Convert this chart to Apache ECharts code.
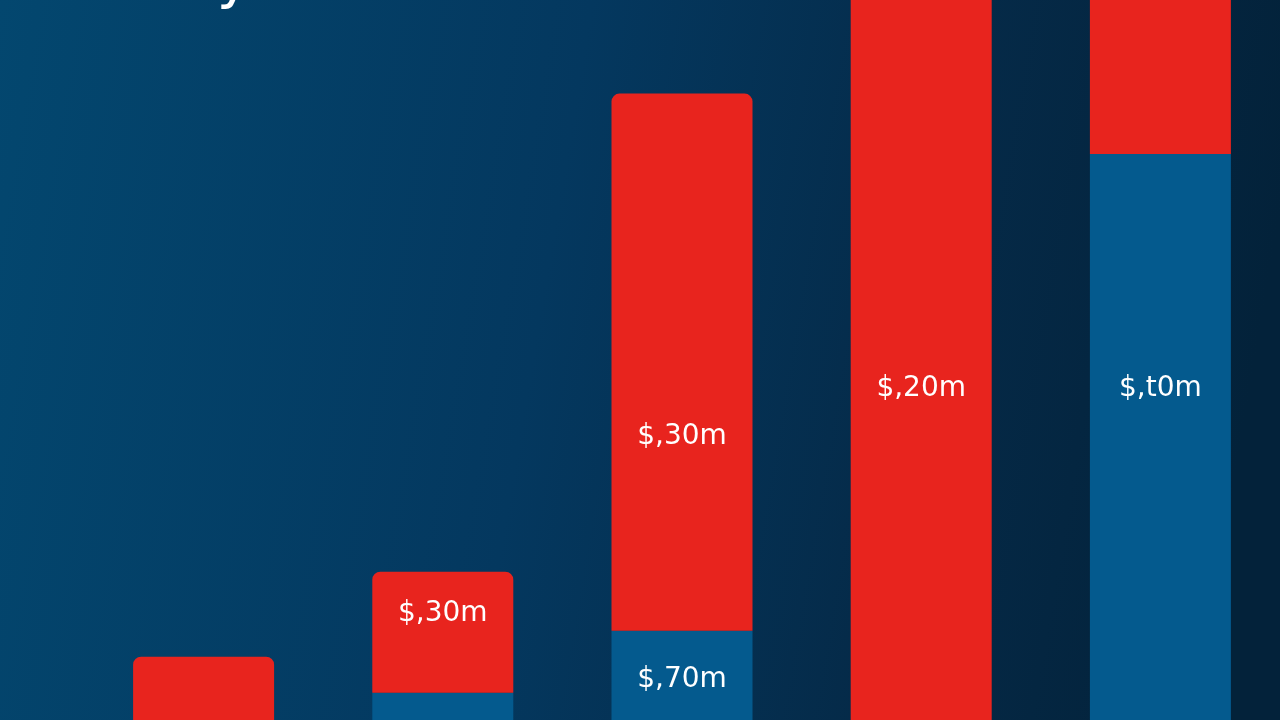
<!DOCTYPE html>
<html>
<head>
<meta charset="utf-8">
<style>
  html, body { margin: 0; padding: 0; width: 1280px; height: 720px; overflow: hidden; background: #05345a; }
  #chart { width: 1280px; height: 720px; }
</style>
<script src="https://cdn.jsdelivr.net/npm/echarts@6/dist/echarts.min.js"></script>
</head>
<body>
<div id="chart"></div>
<script>
// ---- data ----
const categories = ['A', 'B', 'C', 'D', 'E'];
const baseValues = [0, 19, 62, 0, 393];      // blue (bottom) segment
const topValues = [44, 84, 373, 540, 160];   // red (top) segment
const topLabels = ['', '$,30m', '$,30m', '$,20m', ''];
const baseLabels = ['', '', '$,70m', '', '$,t0m'];
const titleText = 'Sales by';

// ---- styling ----
const topLabelShift = [0, -18, 75, 58, 0];
const baseLabelShift = [0, 0, 4, 0, -48];
const RED = '#e8241e';
const BLUE = '#045a8e';

const labelStyle = {
  show: true,
  position: 'inside',
  color: '#ffffff',
  fontFamily: 'DejaVu Sans',
  fontSize: 28
};

function items(values, labels, shifts, radius) {
  return values.map((v, i) => ({
    value: v,
    itemStyle: { borderRadius: radius },
    label: Object.assign({}, labelStyle, {
      show: labels[i] !== '',
      formatter: labels[i],
      offset: [0, shifts[i]]
    })
  }));
}

const chart = echarts.init(document.getElementById('chart'));
chart.setOption({
  backgroundColor: {
    type: 'linear', x: 0, y: 0, x2: 1, y2: 0.3,
    colorStops: [
      { offset: 0, color: '#03476f' },
      { offset: 0.45, color: '#04385f' },
      { offset: 0.75, color: '#052a48' },
      { offset: 1, color: '#03223a' }
    ]
  },
  animation: false,
  title: {
    text: titleText,
    left: 2,
    top: -52,
    textStyle: { color: '#ffffff', fontFamily: 'DejaVu Sans', fontSize: 58, fontWeight: 'normal' }
  },
  grid: { left: 84, right: 0, top: 0, bottom: 0, containLabel: false },
  xAxis: {
    type: 'category',
    data: categories,
    show: false
  },
  yAxis: {
    type: 'value',
    min: 0,
    max: 500,
    show: false
  },
  series: [
    {
      type: 'bar',
      stack: 'total',
      barWidth: 141,
      clip: false,
      itemStyle: { color: BLUE },
      data: items(baseValues, baseLabels, baseLabelShift, 0)
    },
    {
      type: 'bar',
      stack: 'total',
      barWidth: 141,
      clip: false,
      itemStyle: { color: RED },
      data: items(topValues, topLabels, topLabelShift, [8, 8, 0, 0])
    }
  ]
});
</script>
</body>
</html>
